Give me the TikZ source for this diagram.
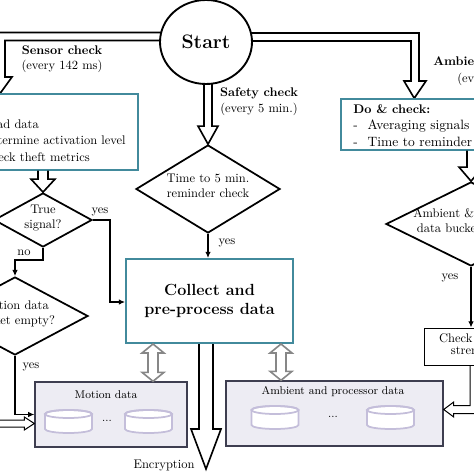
\documentclass[tikz,border=0pt]{standalone}
\usetikzlibrary{shapes.geometric,arrows.meta,calc}
\pgfdeclarelayer{bg}
\pgfsetlayers{bg,main}
\definecolor{teal1}{RGB}{66,138,156}
\definecolor{boxfill}{RGB}{237,236,243}
\definecolor{boxdraw}{RGB}{62,62,80}
\definecolor{cylc}{RGB}{196,190,218}
\definecolor{grayarr}{RGB}{135,135,135}
\newcommand\vhollow[6]{\draw[#1] ($(#2 -| #3)+(-#4,0)$) -- ($(#3)+(-#4,-#6)$) -- ($(#3)+(-#5,-#6)$) -- (#3) -- ($(#3)+(#5,-#6)$) -- ($(#3)+(#4,-#6)$) -- ($(#2 -| #3)+(#4,0)$);}
\newcommand\dhollow[2]{\draw[grayhollow] (#1) -- ($(#1)+(11,9)$) -- ($(#1)+(5,9)$) -- ($(#2)+(5,-9)$) -- ($(#2)+(11,-9)$) -- (#2) -- ($(#2)+(-11,-9)$) -- ($(#2)+(-5,-9)$) -- ($(#1)+(-5,9)$) -- ($(#1)+(-11,9)$) -- cycle;}
\newcommand\dbcyl[2]{%
  \coordinate (#1) at (#2);
  \draw[cylst] ($(#1)+(-23.5,-7.5)$) -- ($(#1)+(-23.5,7.5)$) arc[start angle=180,end angle=0,x radius=23.5,y radius=4] -- ($(#1)+(23.5,-7.5)$) arc[start angle=0,end angle=-180,x radius=23.5,y radius=4] -- cycle;
  \draw[cylst,fill=none] ($(#1)+(0,-7.5)$) ellipse[x radius=23.5,y radius=4];}
\begin{document}
\begin{tikzpicture}[x=0.8pt,y=-0.8pt,
  hollow/.style={draw=black,line width=1.3pt,line join=miter},
  thinhollow/.style={draw=black,line width=0.8pt,line join=miter},
  grayhollow/.style={draw=grayarr,line width=1.3pt,fill=white,line join=miter},
  flow/.style={draw=black,line width=0.9pt,-{Latex[length=5pt,width=4.5pt]}},
  decision/.style={diamond,draw=black,line width=1.4pt,inner sep=0pt,fill=white},
  procbox/.style={draw=teal1,line width=1.2pt,fill=white,inner sep=0pt},
  storebox/.style={draw=boxdraw,line width=1.1pt,fill=boxfill,inner sep=0pt},
  cylst/.style={draw=cylc,line width=1.4pt,fill=white},
  txt/.style={inner sep=0pt,font=\fontsize{10}{12}\selectfont,align=center},
]
\useasboundingbox (0,0) rectangle (474,474);
\clip (0,0) rectangle (474,474);

% main nodes
\node[ellipse,draw,line width=1.5pt,fill=white,minimum width=73.6pt,minimum height=67.2pt,inner sep=0pt,font=\fontsize{15.6}{18}\selectfont\bfseries] (start) at (206,42) {Start};
\node[procbox,minimum width=152pt,minimum height=60.8pt] (sensor) at (43,132) {};
\node[procbox,minimum width=207.2pt,minimum height=40.8pt] (dobox) at (470.5,124.5) {};
\node[decision,minimum width=78.4pt,minimum height=43.2pt] (true) at (43,220) {};
\node[decision,minimum width=115.2pt,minimum height=70.4pt] (safety) at (208,189) {};
\node[decision,minimum width=116.8pt,minimum height=62.4pt] (mdiam) at (15,316) {};
\node[decision,minimum width=136pt,minimum height=67.2pt] (amb) at (471,224) {};
\node[procbox,line width=1.6pt,minimum width=133.6pt,minimum height=67.2pt,align=center,font=\fontsize{12.9}{15.2}\selectfont\bfseries] (collect) at (209.5,301) {Collect and\\pre-process data};
\node[draw,line width=0.8pt,fill=white,minimum width=75.2pt,minimum height=29.6pt,inner sep=0pt] (check) at (471,346.5) {};
\node[txt,font=\fontsize{10}{9.5}\selectfont] (checkt) at (473.5,345) {Check signal\\strength};
\node[storebox,minimum width=121.6pt,minimum height=52pt] (motion) at (111,414.5) {};
\node[storebox,minimum width=173.6pt,minimum height=52pt] (ambbox) at (334.5,413.5) {};

% coordinates
\coordinate (sIn) at ($(sensor.north west)+(53,0)$);
\coordinate (dIn) at ($(dobox.north west)+(74,0)$);
\coordinate (enc) at (206,469);
\coordinate (g1) at (153,0);
\coordinate (g2) at (281,0);
\coordinate (turnA) at (110,302);
\coordinate (turnB) at (15,260);
\coordinate (lin) at (-5,423.5);
\coordinate (rin) at (474,409.5);

% texts
\node[txt] (sensorlbl) at (62,59.5) {\textbf{Sensor check}\\(every 142 ms)};
\node[txt,font=\fontsize{10}{12.8}\selectfont] (safetylbl) at (259,102) {\textbf{Safety check}\\(every 5 min.)};
\node[txt,font=\fontsize{10}{13.6}\selectfont] (amblbl) at (496,71.5) {\textbf{Ambient data check}\\(every 1 min.)};
\node[txt,align=left,anchor=west,font=\fontsize{10}{13.2}\selectfont] (sensort) at (-32,140.5) {-\hspace{8pt}Read data\\-\hspace{8pt}Determine activation level\\-\hspace{8pt}Check theft metrics};
\node[txt,align=left,anchor=west,font=\fontsize{10.8}{13.2}\selectfont] (dot) at (353,125.5) {\fontsize{10}{13.2}\selectfont\textbf{Do \& check:}\\-\hspace{8pt}Averaging signals\\-\hspace{8pt}Time to reminder check};
\node[txt] (truet) at (43,218.5) {True\\signal?};
\node[txt] (safetyt) at (208,186) {Time to 5 min.\\reminder check};
\node[txt] (mdiamt) at (15,313.5) {Motion data\\bucket empty?};
\node[txt] (ambt) at (471,222) {Ambient \& processor\\data bucket empty?};
\node[txt,font=\small] (mtitle) at (106,395) {Motion data};
\node[txt,font=\small] (atitle) at (333,392) {Ambient and processor data};
\dbcyl{cy1}{68.5,421.5}
\dbcyl{cy2}{148.5,421.5}
\dbcyl{cy3}{275,417.5}
\dbcyl{cy4}{390.5,417.5}
\node[txt,font=\small] (dots1) at (107,421) {...};
\node[txt,font=\small] (dots2) at (333,417) {...};
\node[txt] (y1) at (100,212) {yes};
\node[txt] (no1) at (24,253) {no};
\node[txt] (y2) at (227,243) {yes};
\node[txt] (y3) at (31,367) {yes};
\node[txt] (y4) at (450,278) {yes};
\node[txt] (enct) at (164,466) {Encryption};

% hollow arrows from Start (behind the Start node)
\begin{pgfonlayer}{bg}
\draw[hollow] ($(start.center)+(0,-9.5)$) -- (-3,32.5) -- (-3,77) -- (-10,77) -- (sIn) -- (12,77) -- (5,77) -- (5,40.5) -- ($(start.center)+(0,-1.5)$);
\draw[hollow] ($(start.center)+(0,-9)$) -- (419,33) -- (419,81) -- (426,81) -- (dIn) -- (404,81) -- (411,81) -- (411,41) -- ($(start.center)+(0,-1)$);
\vhollow{hollow}{start.center}{safety.north}{4}{10}{18}
\end{pgfonlayer}

\vhollow{hollow}{sensor.south}{true.north}{5}{12}{13}
\vhollow{hollow}{dobox.south}{amb.north}{4}{12}{14}
\vhollow{hollow}{collect.south}{enc}{7}{15}{40}

\dhollow{collect.south -| g1}{motion.north -| g1}
\dhollow{collect.south -| g2}{ambbox.north -| g2}

\draw[thinhollow] ($(lin)+(0,-3.5)$) -- ($(motion.west |- lin)+(-10,-3.5)$) -- ($(motion.west |- lin)+(-10,-6.5)$) -- (motion.west |- lin) -- ($(motion.west |- lin)+(-10,6.5)$) -- ($(motion.west |- lin)+(-10,3.5)$) -- ($(lin)+(0,3.5)$);
\draw[thinhollow] ($(check.south -| rin)+(-4,0)$) -- ($(rin)+(-4,-4)$) -- ($(ambbox.east |- rin)+(10,-4)$) -- ($(ambbox.east |- rin)+(10,-7.5)$) -- (ambbox.east |- rin) -- ($(ambbox.east |- rin)+(10,7.5)$) -- ($(ambbox.east |- rin)+(10,4)$) -- ($(rin)+(4,4)$) -- ($(check.south -| rin)+(4,0)$);

% thin flow arrows
\draw[flow] (true.east) -| (turnA) -- (collect.west |- turnA);
\draw[flow] (true.south) |- (turnB) -- (mdiam.north);
\draw[flow] (mdiam.south) |- (motion.west);
\draw[flow] (amb.south) -- (amb.south |- check.north);
\draw[flow,line width=1.5pt] (safety.south) -- (safety.south |- collect.north);
\end{tikzpicture}
\end{document}
